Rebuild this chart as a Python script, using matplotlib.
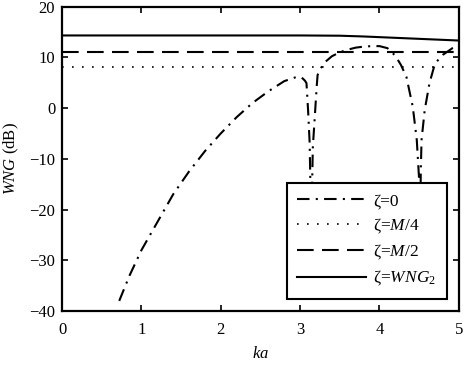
import matplotlib
matplotlib.use('Agg')
import matplotlib.pyplot as plt

plt.rcParams['font.family'] = ['Liberation Serif', 'DejaVu Serif']
plt.rcParams['mathtext.fontset'] = 'custom'
plt.rcParams['mathtext.rm'] = 'Liberation Serif'
plt.rcParams['mathtext.it'] = 'Liberation Serif:italic'
plt.rcParams['axes.unicode_minus'] = True

# zeta = 0
ka_0 = [0.72, 0.85, 1.0, 1.2, 1.4, 1.6, 1.8, 2.0, 2.2, 2.4, 2.6, 2.8, 2.95,
        3.02, 3.06, 3.08, 3.10, 3.12, 3.135, 3.14, 3.145, 3.16, 3.19, 3.21,
        3.22, 3.25, 3.31, 3.4, 3.5, 3.6, 3.7, 3.8, 3.9, 4.0, 4.1, 4.2, 4.27,
        4.34, 4.42, 4.47, 4.5, 4.51, 4.52, 4.53, 4.57, 4.63, 4.70, 4.8, 4.92, 5.0]
wng_0 = [-38, -33, -28, -22.5, -17, -12.5, -8.5, -5, -1.8, 1, 3.3, 5.3, 6.1,
         6.0, 5.4, 4.9, -0.4, -6.9, -20, -32, -20, -7.7, -0.4, 4.5,
         6.5, 7.6, 9.0, 10.2, 11.0, 11.5, 11.9, 12.1, 12.2, 12.2, 11.8, 10.3, 8.5,
         6.1, 0.2, -6.3, -14.2, -32, -12.8, -6.3, -0.4, 4.9, 8.8, 10.5, 11.8, 12.3]

# zeta = M/4, M/2
ka_flat = [0, 5]
wng_m4 = [8, 8]
wng_m2 = [11, 11]

# zeta = WNG_2
ka_w = [0, 1, 2, 3, 3.5, 3.8, 4.1, 4.4, 4.7, 5.0]
wng_w = [14.3, 14.3, 14.3, 14.3, 14.25, 14.1, 13.9, 13.7, 13.5, 13.3]

fig = plt.figure(figsize=(4.74, 3.84), dpi=100)
ax = fig.add_axes([0.131, 0.19, 0.837, 0.793])

ax.plot(ka_0, wng_0, color='black', lw=1.5, linestyle=(0, (6, 3, 1, 3)), label='ζ=0')
ax.plot(ka_flat, wng_m4, color='black', lw=1.2, linestyle=(0, (1, 5)), label='ζ=$M$/4')
ax.plot(ka_flat, wng_m2, color='black', lw=1.5, linestyle=(0, (8, 4)), label='ζ=$M$/2')
ax.plot(ka_w, wng_w, color='black', lw=1.5, linestyle='-', label='ζ=$WNG_2$')

ax.set_xlim(0, 5)
ax.set_ylim(-40, 20)
ax.set_xticks([0, 1, 2, 3, 4, 5])
ax.set_yticks([-40, -30, -20, -10, 0, 10, 20])
ax.tick_params(direction='in', top=True, right=True, labelsize=12, length=4, width=1.2)
ax.tick_params(axis='x', pad=8)
ax.tick_params(axis='y', pad=5)
for s in ax.spines.values():
    s.set_linewidth(1.6)

ax.set_xlabel('$ka$', fontsize=12, labelpad=6)
ax.set_ylabel('$WNG$ (dB)', fontsize=12, labelpad=6)

leg = ax.legend(loc='lower right', fontsize=12.5, handlelength=4.0, handletextpad=0.4,
                fancybox=False, framealpha=1, edgecolor='black',
                borderaxespad=0.7, labelspacing=0.42, borderpad=0.6)
leg.get_frame().set_linewidth(1.5)

fig.savefig('out.png', dpi=100)
